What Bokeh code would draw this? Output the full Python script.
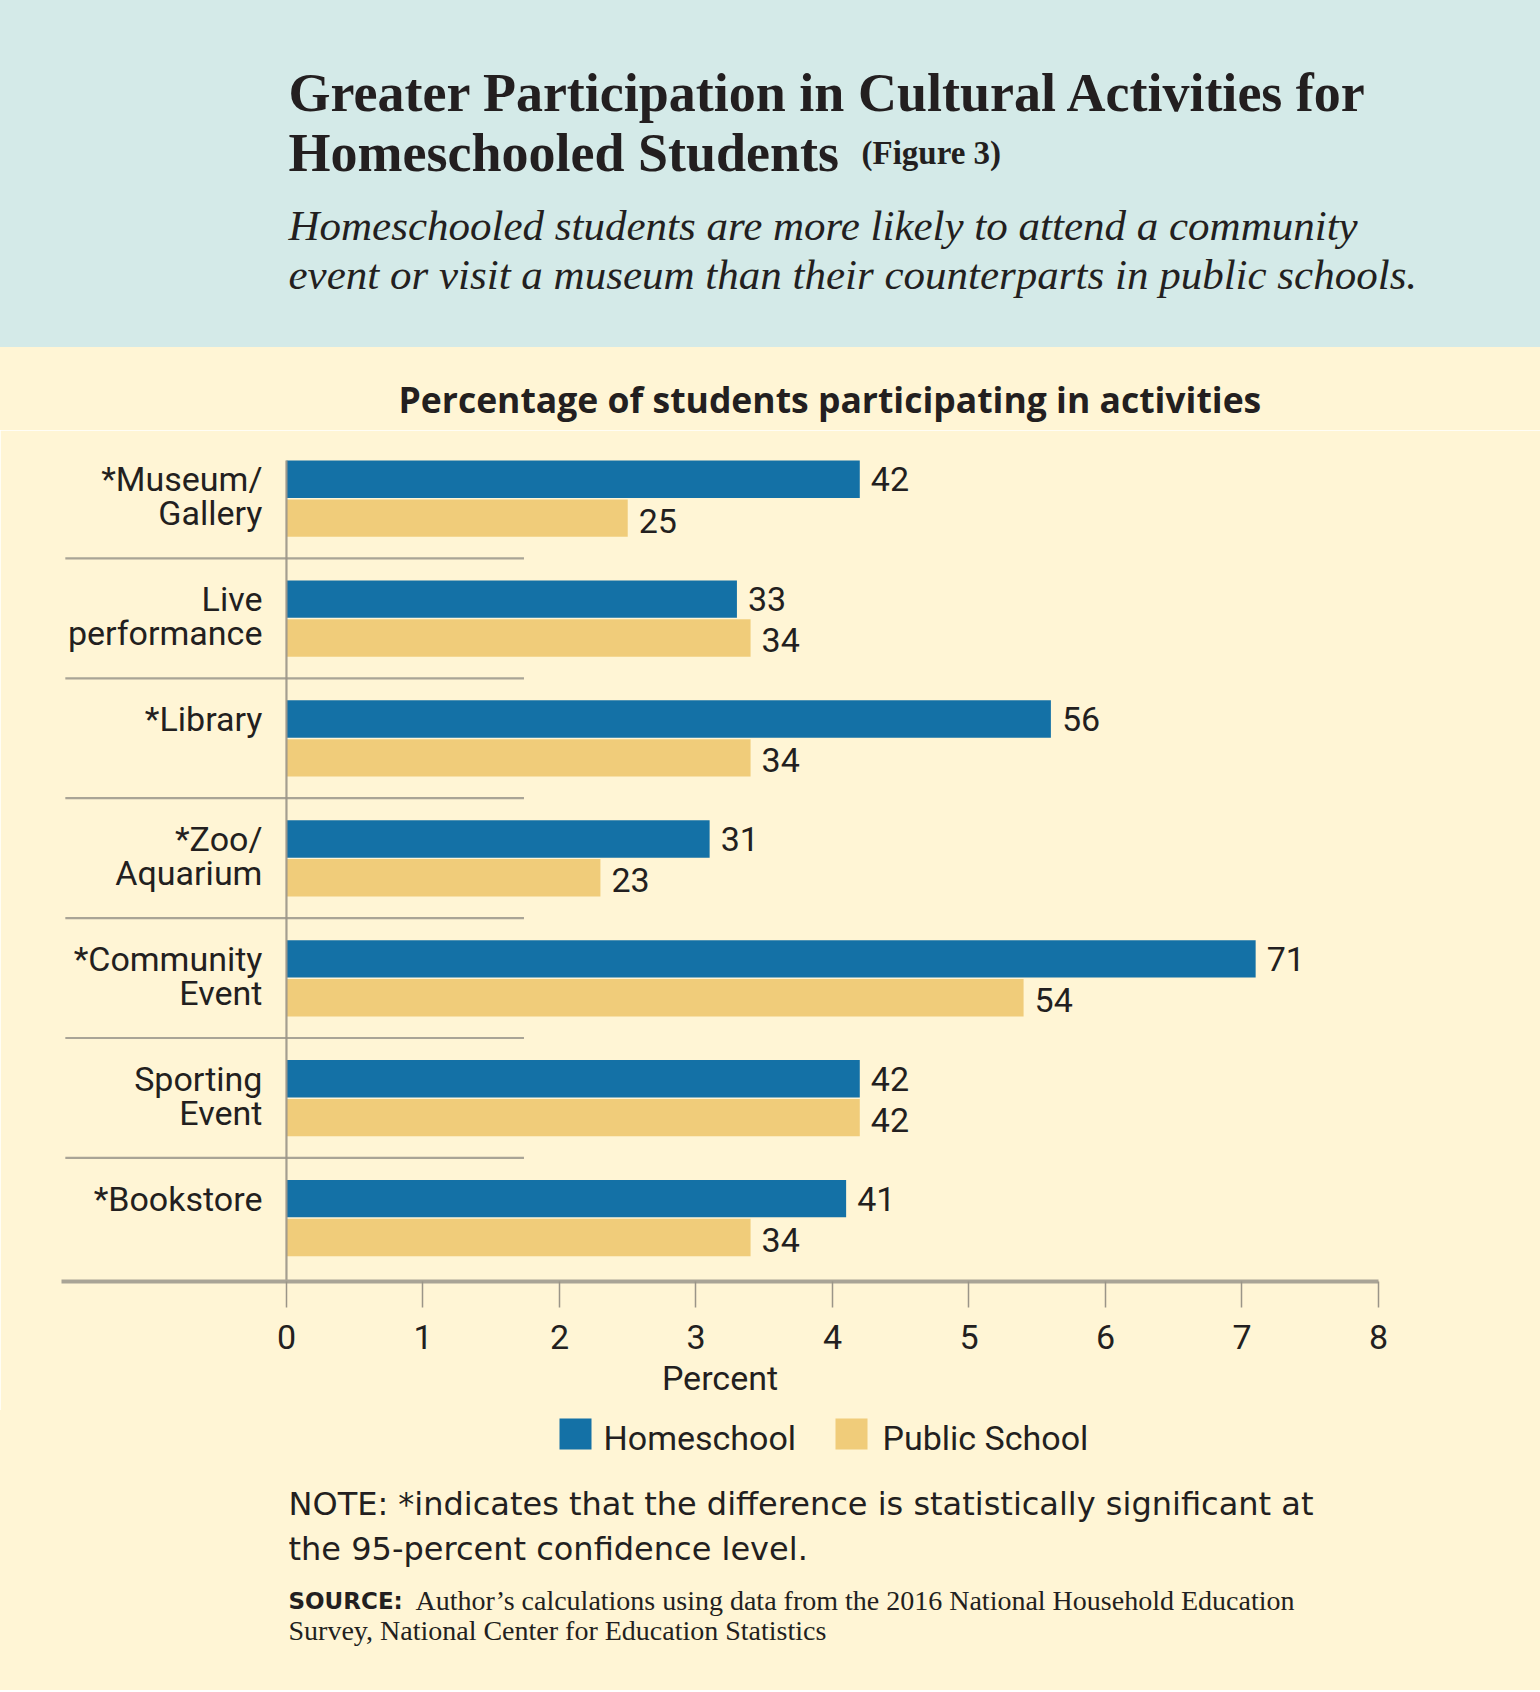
from bokeh.plotting import figure
from bokeh.layouts import column
from bokeh.models import Range1d, FixedTicker, Plot
from bokeh.core.properties import value
from bokeh.embed import file_html
from bokeh.resources import INLINE
import numpy as np

# ---------------- data ----------------
categories = ["*Museum/\nGallery", "Live\nperformance", "*Library", "*Zoo/\nAquarium",
              "*Community\nEvent", "Sporting\nEvent", "*Bookstore"]
homeschool = [42, 33, 56, 31, 71, 42, 41]
public_school = [25, 34, 34, 23, 54, 42, 34]
series_names = ["Homeschool", "Public School"]
x_ticks = [0, 10, 20, 30, 40, 50, 60, 70, 80]
x_tick_labels = ["0", "1", "2", "3", "4", "5", "6", "7", "8"]

title_line1 = "Greater Participation in Cultural Activities for"
title_line2 = "Homeschooled Students"
title_fig = "(Figure 3)"
subtitle = ["Homeschooled students are more likely to attend a community",
            "event or visit a museum than their counterparts in public schools."]
chart_title = "Percentage of students participating in activities"
x_label = "Percent"
note = ["NOTE: *indicates that the difference is statistically significant at",
        "the 95-percent confidence level."]
source_head = "SOURCE:"
source_text = ["Author\u2019s calculations using data from the 2016 National Household Education",
               "Survey, National Center for Education Statistics"]

# ---------------- style ----------------
BLUE = "#1471A6"
GOLD = "#F0CC7A"
BG = "#FFF5D5"
HEAD_BG = "#D4EAE8"
INK = "#231F20"
GRAY = "#A9A496"
SANS = "Roboto"
SANS2 = "Open Sans"
SANS3 = "DejaVu Sans"
SERIF = "Liberation Serif"
W = 1540

extra = {"frame_align": False} if "frame_align" in Plot.properties() else {}


def pixel_fig(y0, y1, bg):
    f = figure(width=W, height=int(round(y1 - y0)), x_range=Range1d(0, W),
               y_range=Range1d(y1, y0), output_backend="svg", toolbar_location=None,
               x_axis_location=None, y_axis_location=None, min_border=0, **extra)
    f.grid.visible = False
    f.outline_line_color = bg
    f.outline_line_width = 2
    f.background_fill_color = bg
    f.border_fill_color = bg
    return f


# ---------------- header ----------------
head = pixel_fig(0, 347, HEAD_BG)
head.text(x=[288], y=[92], text=[title_line1], text_font=value(SERIF), text_font_style="bold",
          text_font_size="54px", text_color=INK, text_baseline="alphabetic")
head.text(x=[288], y=[152], text=[title_line2], text_font=value(SERIF), text_font_style="bold",
          text_font_size="54px", text_color=INK, text_baseline="alphabetic")
head.text(x=[861], y=[152], text=[title_fig], text_font=value(SERIF), text_font_style="bold",
          text_font_size="33px", text_color=INK, text_baseline="alphabetic")
head.text(x=[288, 288], y=[225, 274], text=subtitle, text_font=value(SERIF), text_font_style="italic",
          text_font_size="43px", text_color=INK, text_baseline="alphabetic")

# ---------------- chart title strip ----------------
strip = pixel_fig(347, 430, BG)
strip.text(x=[398], y=[398], text=[chart_title], text_font=value(SANS2), text_font_style="bold",
           text_font_size="35.5px", text_color=INK, text_baseline="middle")

# ---------------- chart ----------------
ytop, ybot = -0.5, 6.531
c = figure(width=W, height=980, x_range=Range1d(-16.48, 80), y_range=Range1d(ybot, ytop),
           output_backend="svg", toolbar_location=None, y_axis_location=None,
           min_border_left=61, min_border_right=162, min_border_top=8, min_border_bottom=129,
           **extra)
c.grid.visible = False
c.outline_line_color = BG
c.outline_line_width = 1.5
c.background_fill_color = BG
c.border_fill_color = BG

yy = np.arange(len(categories))
off_b, off_g, hgt = -0.16, 0.164, 0.312

c.hbar(y=yy + off_b, left=0, right=homeschool, height=hgt, color=BLUE, line_color=None)
c.hbar(y=yy + off_g, left=0, right=public_school, height=hgt, color=GOLD, line_color=None)

# separators
c.segment(x0=-16.2, x1=17.4, y0=yy[:-1] + 0.5, y1=yy[:-1] + 0.5, line_color=GRAY, line_width=2.2)
# vertical zero line
c.segment(x0=[0], x1=[0], y0=[yy[0] + off_b - hgt / 2], y1=[ybot], line_color="#9A9588",
          line_width=2.2, line_alpha=0.9)

# value labels
c.text(x=homeschool, y=yy + off_b, text=[str(v) for v in homeschool], x_offset=11,
       text_font=value(SANS), text_font_size="34px", text_color=INK, text_baseline="middle")
c.text(x=public_school, y=yy + off_g + 0.02, text=[str(v) for v in public_school], x_offset=11,
       text_font=value(SANS), text_font_size="34px", text_color=INK, text_baseline="middle")

# category labels (first line aligned with the Homeschool bar)
first = [s.split("\n")[0] for s in categories]
second = [s.split("\n")[1] if "\n" in s else "" for s in categories]
c.text(x=[-1.76] * len(categories), y=yy + off_b, text=first, text_align="right",
       text_baseline="middle", text_font=value(SANS), text_font_size="34px", text_color=INK)
c.text(x=[-1.76] * len(categories), y=yy + off_b + 0.285, text=second, text_align="right",
       text_baseline="middle", text_font=value(SANS), text_font_size="34px", text_color=INK)

ax = c.xaxis[0]
ax.ticker = FixedTicker(ticks=x_ticks)
ax.major_label_overrides = {t: lab for t, lab in zip(x_ticks, x_tick_labels)}
ax.axis_label = x_label
ax.axis_line_color = GRAY
ax.axis_line_width = 4
ax.major_tick_line_color = "#9A9588"
ax.major_tick_line_width = 1.5
ax.major_tick_in = 0
ax.major_tick_out = 26
ax.minor_tick_line_color = None
ax.major_label_standoff = 17
ax.major_label_text_font = SANS
ax.major_label_text_font_size = "34px"
ax.major_label_text_color = INK
ax.axis_label_text_font = SANS
ax.axis_label_text_font_size = "34px"
ax.axis_label_text_font_style = "normal"
ax.axis_label_text_color = INK
ax.axis_label_standoff = 6

# ---------------- footer ----------------
foot = pixel_fig(1410, 1690, BG)
foot.rect(x=[575, 851], y=[1433.5, 1433.5], width=32, height=31, color=[BLUE, GOLD], line_color=None)
foot.text(x=[603, 882], y=[1437, 1437], text=series_names, text_font=value(SANS),
          text_font_size="34px", text_color=INK, text_baseline="middle")
foot.text(x=[288, 288], y=[1503, 1548], text=note, text_font=value(SANS3),
          text_font_size="32px", text_color=INK, text_baseline="middle")
foot.text(x=[288], y=[1600], text=[source_head], text_font=value(SANS3), text_font_style="bold",
          text_font_size="23px", text_color=INK, text_baseline="middle")
foot.text(x=[415, 288], y=[1600, 1630], text=source_text, text_font=value(SERIF),
          text_font_size="28px", text_color=INK, text_baseline="middle")

layout = column(head, strip, c, foot, spacing=0)
open("out.html", "w").write(file_html(layout, INLINE))
